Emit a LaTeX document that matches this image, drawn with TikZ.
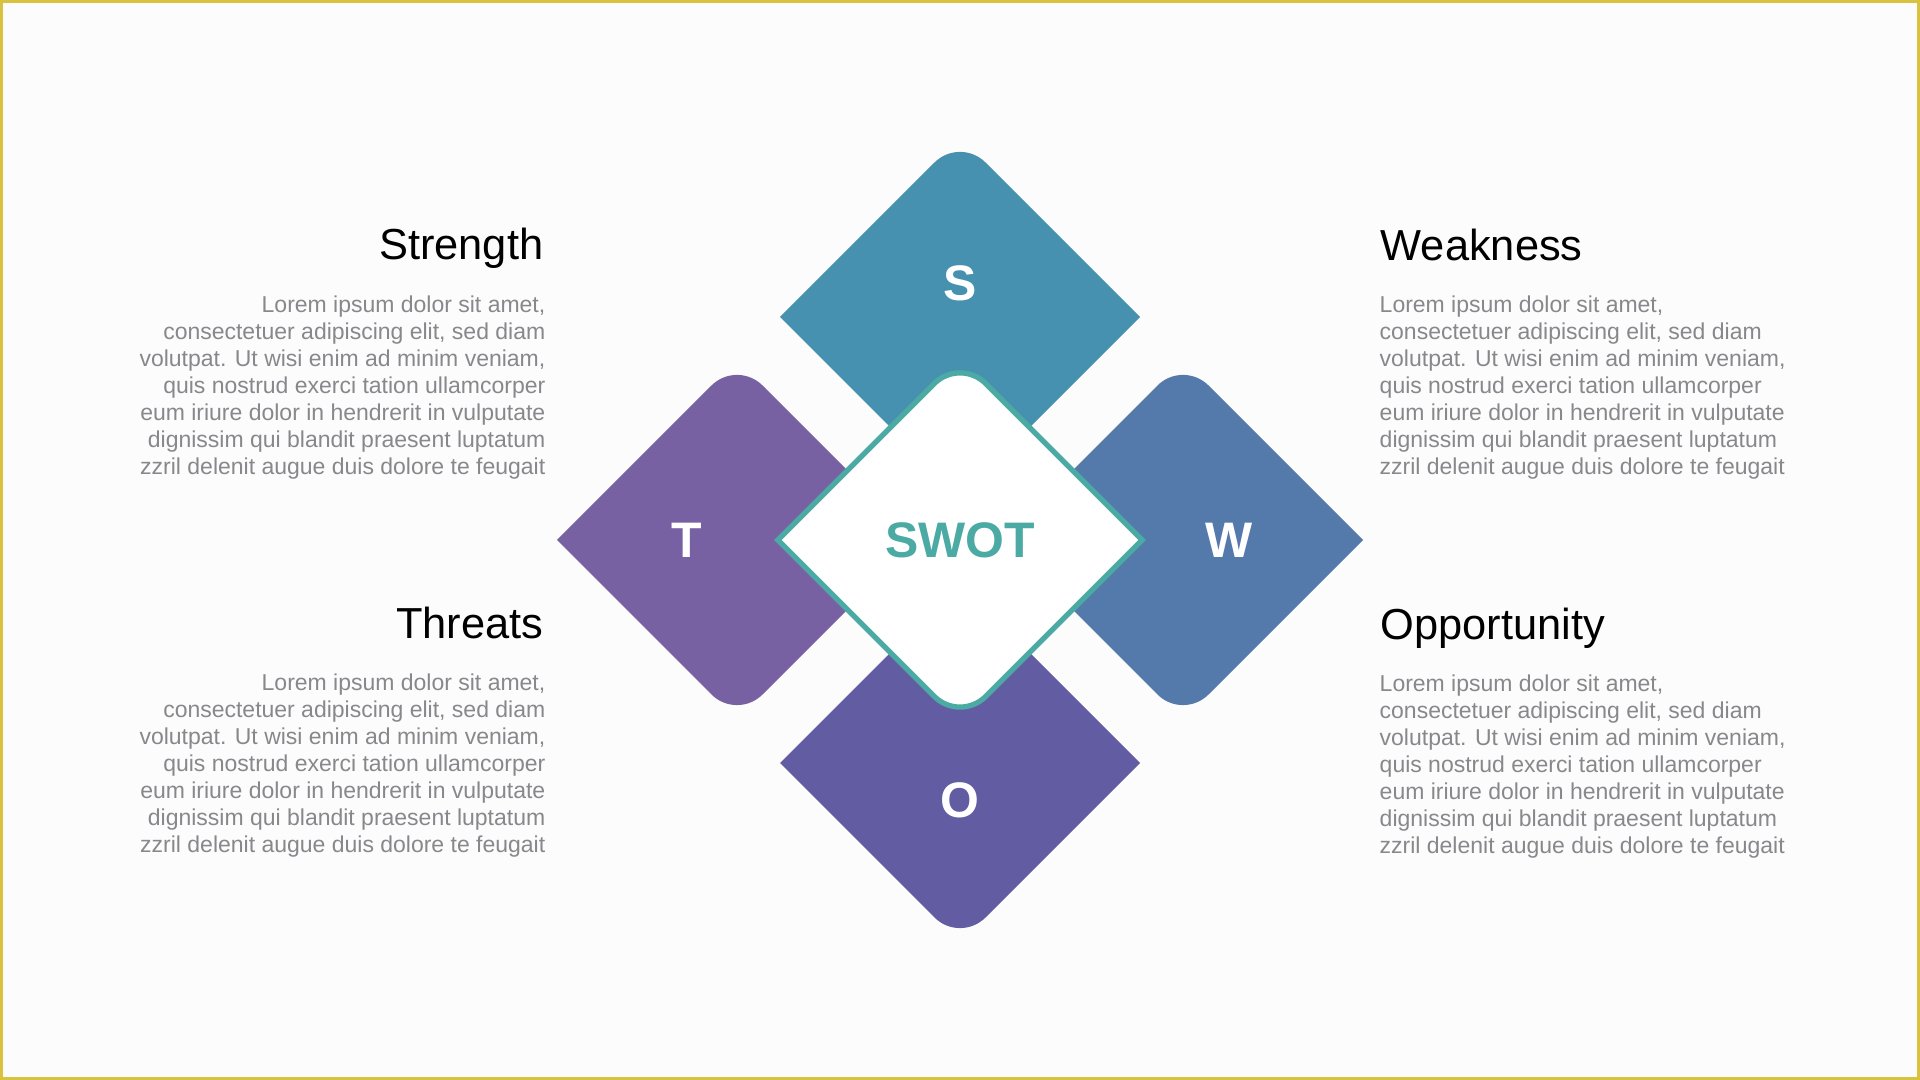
\documentclass[tikz,border=0pt]{standalone}
\usepackage{fontspec}
\setmainfont{Liberation Sans}
\usepackage{tikz}

\definecolor{sblue}{HTML}{4691AF}
\definecolor{wblue}{HTML}{5479AB}
\definecolor{opurple}{HTML}{625DA3}
\definecolor{tpurple}{HTML}{7861A2}
\definecolor{swotteal}{HTML}{4BAAA3}
\definecolor{bodygray}{HTML}{88888C}
\definecolor{framegold}{HTML}{D9C23E}

\tikzset{
    leaf/.pic={
        \path[pic actions] (-1.8,0) -- ++(45:2.1856) arc[start angle=135, end angle=45, radius=0.36]
            -- (1.8,0) -- ++(-135:2.1856) arc[start angle=-45, end angle=-135, radius=0.36] -- cycle;
    },
    letter/.style={inner sep=0, text=white, font=\fontsize{14.2}{17}\selectfont\bfseries},
    title/.style={inner sep=0, text=black, font=\fontsize{12.35}{15}\selectfont},
    body/.style={inner sep=0, text=bodygray, font=\fontsize{6.54}{7.7}\selectfont}
}

\begin{document}
\begin{tikzpicture}
    \useasboundingbox (0,0) rectangle (19.2,10.8);
    \draw[framegold, fill=white!98!gray, line width=0.03cm] (0.015,0.015) rectangle (19.185,10.785);

    % the four petals, then the middle one on top
    \pic[fill=sblue] (S) at (9.6, 7.63) {leaf};
    \pic[fill=opurple] (O) at (9.6, 3.17) {leaf};
    \pic[fill=tpurple] (T) at (7.37, 5.4) {leaf};
    \pic[fill=wblue] (W) at (11.83, 5.4) {leaf};
    \pic[fill=white, draw=swotteal, line width=1.5pt, scale=1.012] (C) at (9.6, 5.4) {leaf};

    \node[letter, anchor=base] (s) at (9.6, 7.79) {S};
    \node[letter, anchor=base] (w) at (12.29, 5.22) {W};
    \node[letter, anchor=base] (t) at (6.87, 5.22) {T};
    \node[letter, anchor=base] (o) at (9.6, 2.62) {O};
    \node[letter, anchor=base, text=swotteal] (swot) at (9.6, 5.22) {SWOT};

    \node[title, anchor=base east] (strength) at (5.44, 8.20) {Strength};
    \node[title, anchor=base east] (threats) at (5.44, 4.41) {Threats};
    \node[title, anchor=base west] (weakness) at (13.80, 8.19) {Weakness};
    \node[title, anchor=base west] (opportunity) at (13.80, 4.40) {Opportunity};

    % body text, one node per line
    \foreach \side/\x/\y/\anc in {s/5.46/7.675/east, t/5.46/3.895/east, w/13.79/7.675/west, o/13.79/3.885/west}
        \foreach \ln [count=\i] in {{Lorem ipsum dolor sit amet,}, {consectetuer adipiscing elit, sed diam},
                {volutpat. Ut wisi enim ad minim veniam,}, {quis nostrud exerci tation ullamcorper},
                {eum iriure dolor in hendrerit in vulputate}, {dignissim qui blandit praesent luptatum},
                {zzril delenit augue duis dolore te feugait}}
            \node[body, anchor=base \anc] (\side\i) at (\x, {\y - 0.27*(\i-1)}) {\ln};
\end{tikzpicture}
\end{document}
